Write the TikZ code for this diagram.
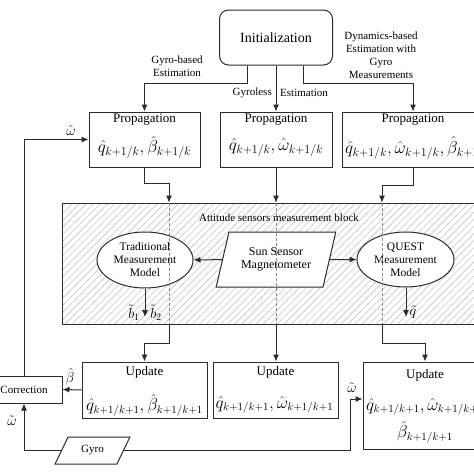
\documentclass[tikz,border=0pt]{standalone}
\usepackage{fontspec}
\setmainfont{Liberation Serif}
\usetikzlibrary{arrows.meta,shapes.geometric,patterns.meta,calc}
\definecolor{ln}{HTML}{2B2B2B}
\definecolor{hatch}{HTML}{C4C4C4}
\definecolor{dsh}{HTML}{8A8A8A}
\tikzset{
  box/.style={draw=ln, line width=1pt, fill=white, rectangle, inner sep=0pt},
  rbox/.style={box, rounded corners=9pt},
  ell/.style={draw=ln, line width=1pt, fill=white, ellipse, inner sep=0pt, align=center, font=\fontsize{11.5}{13}\selectfont},
  para/.style={draw=ln, line width=1pt, fill=white, trapezium, trapezium stretches=true, inner sep=0pt, align=center},
  arr/.style={draw=ln, line width=1pt, -{Latex[length=7pt,width=6pt]}},
  ln/.style={draw=ln, line width=1pt},
  ttl/.style={font=\fontsize{13}{15}\selectfont, inner sep=0pt},
  mth/.style={font=\fontsize{16.5}{19}\selectfont, inner sep=0pt},
  umth/.style={font=\fontsize{16}{19}\selectfont, inner sep=0pt},
  lbl/.style={font=\fontsize{11}{13}\selectfont, inner sep=0pt, align=center},
  dl/.style={draw=dsh, line width=0.8pt, dash pattern=on 3pt off 2pt},
}
\begin{document}
\begin{tikzpicture}[x=1pt,y=-1pt]
\useasboundingbox (0,0) rectangle (474,474);
\clip (0,0) rectangle (474,474);
% nodes
\node[rbox, minimum width=113pt, minimum height=55pt, font=\fontsize{14}{16}\selectfont] (init) at (276,37.5) {Initialization};
\node[box, minimum width=111pt, minimum height=55pt] (prop1) at (144.5,139.5) {};
\node[box, minimum width=112pt, minimum height=55pt] (prop2) at (276,139.5) {};
\node[box, minimum width=142pt, minimum height=55pt] (prop3) at (413,139.5) {};
\node[ttl] (p1t) at ([yshift=-8pt]prop1.north) {Propagation};
\node[ttl] (p2t) at ([yshift=-8pt]prop2.north) {Propagation};
\node[ttl] (p3t) at ([yshift=-8pt]prop3.north) {Propagation};
\node[mth] (p1m) at ([yshift=-36pt]prop1.north) {$\hat{q}_{k+1/k},\hat{\beta}_{k+1/k}$};
\node[mth] (p2m) at ([yshift=-36pt]prop2.north) {$\hat{q}_{k+1/k},\hat{\omega}_{k+1/k}$};
\node[mth, anchor=west] (p3m) at (345,148) {$\hat{q}_{k+1/k},\hat{\omega}_{k+1/k},\hat{\beta}_{k+1/k}$};
% block
\node[draw=ln, line width=1pt, rectangle, minimum width=428pt, minimum height=121pt,
      pattern={Lines[angle=45,distance=5pt,line width=0.6pt]}, pattern color=hatch] (blk) at (276,263.5) {};
\node[lbl] (blkl) at (279,218) {Attitude sensors measurement block};
\node[ell, minimum width=96pt, minimum height=56pt] (tmm) at (145,260) {Traditional\\Measurement\\Model};
\node[ell, minimum width=97pt, minimum height=55pt] (qmm) at (405.5,259.5) {QUEST\\Measurement\\Model};
\node[para, trapezium left angle=68, trapezium right angle=112, minimum width=120pt, minimum height=55pt,
      font=\fontsize{12}{13}\selectfont] (ssm) at (276,259.5) {Sun Sensor\\Magnetometer};
% dashed lines
\draw[dl] ([xshift=-107pt]blk.north) -- ([xshift=-107pt]blk.south);
\draw[dl] (blk.north) -- (blk.south);
\draw[dl] ([xshift=106pt]blk.north) -- ([xshift=106pt]blk.south);
% update
\node[box, minimum width=125pt, minimum height=56pt] (upd1) at (144.5,390) {};
\node[box, minimum width=125pt, minimum height=56pt] (upd2) at (275.5,390) {};
\node[box, minimum width=124pt, minimum height=87pt] (upd3) at (425,405.5) {};
\node[ttl] (u1t) at (144.5,372) {Update};
\node[ttl] (u2t) at (275.5,372) {Update};
\node[ttl] (u3t) at (425,375) {Update};
\node[umth] (u1m) at (144.5,405) {$\hat{q}_{k+1/k+1},\hat{\beta}_{k+1/k+1}$};
\node[umth] (u2m) at (274.5,405) {$\hat{q}_{k+1/k+1},\hat{\omega}_{k+1/k+1}$};
\node[umth, anchor=west] (u3m) at (366,407) {$\hat{q}_{k+1/k+1},\hat{\omega}_{k+1/k+1},$};
\node[umth] (u3m2) at (425,432) {$\hat{\beta}_{k+1/k+1}$};
\node[box, minimum width=76pt, minimum height=27pt, font=\fontsize{11}{13}\selectfont] (corr) at (24,389.5) {Correction};
\node[para, trapezium left angle=58, trapezium right angle=122, minimum width=75pt, minimum height=27pt,
      font=\fontsize{11}{13}\selectfont] (gyro) at (92.5,450.5) {Gyro};
% labels top
\node[lbl] (l1) at (177,66) {Gyro-based\\Estimation};
\node[lbl, anchor=east] (l2a) at (272,93) {Gyroless};
\node[lbl, anchor=west] (l2b) at (280,93) {Estimation};
\node[lbl] (l3) at (381,55.5) {Dynamics-based\\Estimation with\\Gyro\\Measurements};
% connectors from init
\draw[arr] ([xshift=-29pt]init.south) -- ++(0,18) -| (prop1.north);
\draw[arr] (init.south) -- (prop2.north);
\draw[arr] ([xshift=27pt]init.south) -- ++(0,18) -| (prop3.north);
% prop to block
\draw[arr] (prop1.south) -- ++(0,16) -| ([xshift=-107pt]blk.north);
\draw[arr] (prop2.south) -- (blk.north);
\draw[arr] (prop3.south) -- ++(0,18) -| ([xshift=106pt]blk.north);
% inside block
\draw[arr] (ssm) -- (tmm);
\draw[arr] (ssm) -- (qmm);
\coordinate (bt) at (145,317);
\coordinate (qt) at (406,317);
\draw[arr] (tmm.south) -- (bt);
\draw[arr] (qmm.south -| qt) -- (qt);
\node[font=\fontsize{14}{16}\selectfont, inner sep=0pt] (b1) at (134,313) {$\tilde{b}_1$};
\node[font=\fontsize{14}{16}\selectfont, inner sep=0pt] (b2) at (156,313) {$\tilde{b}_2$};
\node[font=\fontsize{14}{16}\selectfont, inner sep=0pt] (qq) at (413,312) {$\tilde{q}$};
% block to update
\draw[arr] ([xshift=-107pt]blk.south) -- ++(0,19) -| (upd1.north);
\draw[arr] (blk.south) -- (blk.south |- upd2.north);
\draw[arr] ([xshift=106pt]blk.south) -- ++(0,19) -| (upd3.north);
% correction loop
\draw[arr] (upd1.west) -- (corr.east);
\node[font=\fontsize{14}{16}\selectfont, inner sep=0pt] (bh) at (70,377) {$\hat{\beta}$};
\draw[arr] (corr.north) |- (prop1.west);
\node[font=\fontsize{14}{16}\selectfont, inner sep=0pt] (wh) at (71,130) {$\hat{\omega}$};
\draw[arr] (gyro.west) -| (corr.south);
\node[font=\fontsize{14}{16}\selectfont, inner sep=0pt] (wt1) at (12,421) {$\tilde{\omega}$};
\draw[arr] (gyro.east) -| (350,399) -- ([yshift=6.5pt]upd3.west);
\node[font=\fontsize{14}{16}\selectfont, inner sep=0pt] (wt2) at (352,388) {$\tilde{\omega}$};
\end{tikzpicture}
\end{document}
